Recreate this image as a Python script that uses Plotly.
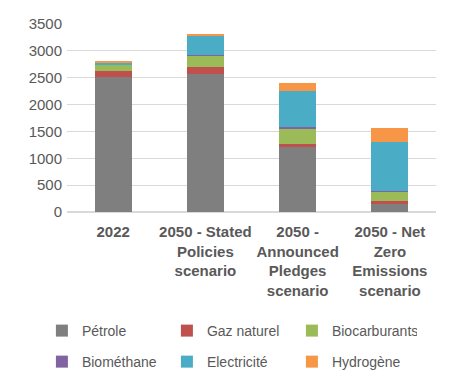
import plotly.graph_objects as go

categories = ["<b>2022</b>",
              "<b>2050 - Stated<br>Policies<br>scenario</b>",
              "<b>2050 -<br>Announced<br>Pledges<br>scenario</b>",
              "<b>2050 - Net<br>Zero<br>Emissions<br>scenario</b>"]
petrole = [2515, 2570, 1210, 165]
gaz_naturel = [110, 130, 60, 35]
biocarburants = [120, 210, 285, 190]
biomethane = [5, 20, 20, 5]
electricite = [35, 365, 670, 915]
hydrogene = [20, 25, 165, 260]

series = [
    ("Pétrole", petrole, "#7f7f7f", "legend"),
    ("Gaz naturel", gaz_naturel, "#c0504d", "legend"),
    ("Biocarburants", biocarburants, "#9bbb59", "legend"),
    ("Biométhane", biomethane, "#8064a2", "legend2"),
    ("Electricité", electricite, "#4bacc6", "legend2"),
    ("Hydrogène", hydrogene, "#f79646", "legend2"),
]

fig = go.Figure()
for name, vals, col, lg in series:
    fig.add_trace(go.Bar(name=name, x=categories, y=vals, marker_color=col,
                         marker_line_width=0, legend=lg))

leg_common = dict(orientation="h", x=-0.068, xanchor="left", yanchor="middle",
                  entrywidth=80, font=dict(size=14, color="#595959"),
                  traceorder="normal", itemwidth=30, bgcolor="rgba(0,0,0,0)")

fig.update_layout(
    barmode="stack",
    bargap=0.6,
    width=445, height=376,
    margin=dict(l=59, r=17, t=16, b=172, autoexpand=False),
    paper_bgcolor="white", plot_bgcolor="white",
    font=dict(family="Liberation Sans, Arial, sans-serif", size=14, color="#595959"),
    yaxis=dict(range=[0, 3500], dtick=500, gridcolor="#d9d9d9", gridwidth=1,
               zeroline=True, zerolinecolor="#d9d9d9", showline=False,
               ticks="", tickfont=dict(size=15), ticklabelstandoff=4),
    xaxis=dict(showline=False, ticks="", tickfont=dict(size=15), tickangle=0,
               ticklabelstandoff=9),
    legend=dict(y=-0.633, **leg_common),
    legend2=dict(y=-0.798, **leg_common),
    showlegend=True,
)
fig.write_html("out.html")
